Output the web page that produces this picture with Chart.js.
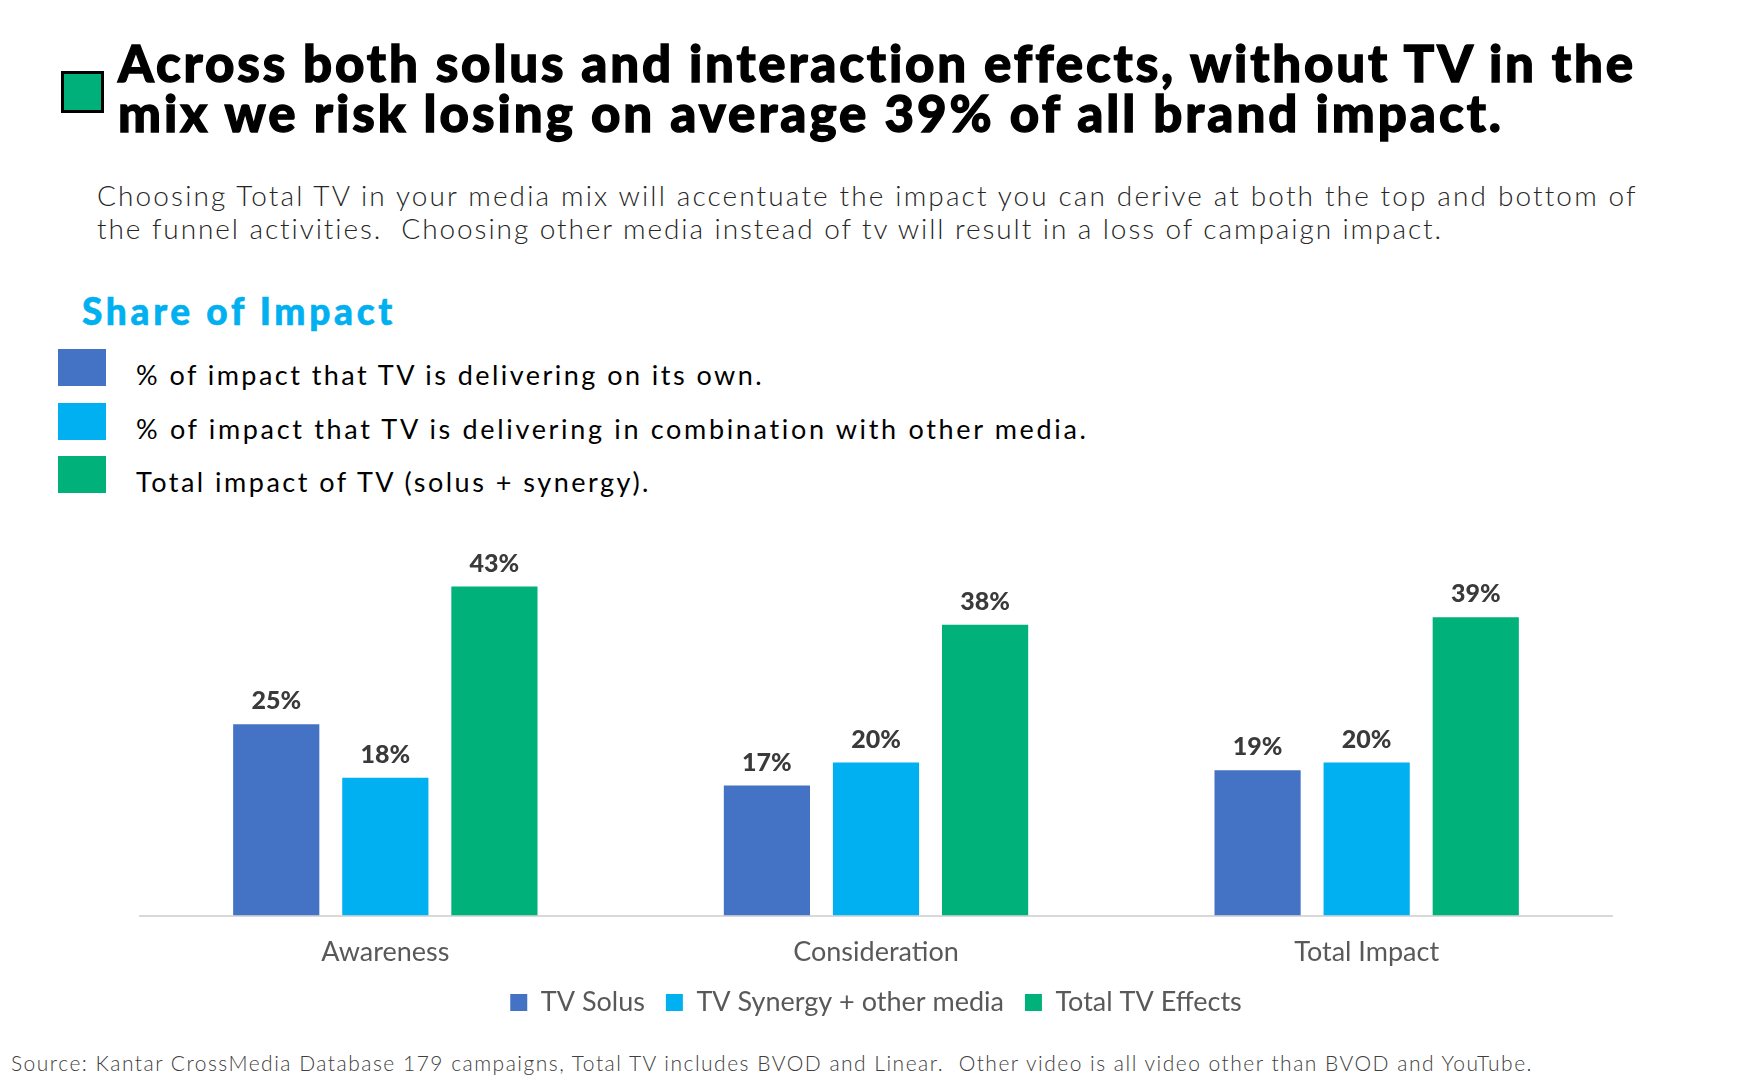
<!DOCTYPE html>
<html>
<head>
<meta charset="utf-8">
<script src="https://cdn.jsdelivr.net/npm/chart.js@4/dist/chart.umd.min.js"></script>
<style>
  html, body { margin: 0; padding: 0; background: #fff; }
  body { width: 1764px; height: 1080px; position: relative; overflow: hidden; font-family: "Lato", "Open Sans", sans-serif; }
  .abs { position: absolute; white-space: nowrap; }
  #mark { left: 61px; top: 71px; width: 37px; height: 36px; background: #00B07A; border: 3px solid #000; }
  .title { left: 118px; font-size: 51px; font-weight: 900; color: #000; line-height: 50px; -webkit-text-stroke: 1.3px #000; }
  .sub { left: 97px; font-size: 28px; font-weight: 300; color: #262626; line-height: 33px; }
  #share { left: 82px; top: 291px; font-size: 37px; font-weight: 900; color: #00B0F0; line-height: 40px; -webkit-text-stroke: 0.6px #00B0F0; }
  .key { left: 58px; width: 48px; height: 37px; }
  .keytext { left: 136px; font-size: 27px; color: #000; line-height: 30px; }
  #source { left: 11px; top: 1050px; font-size: 21px; color: #404040; line-height: 26px; font-weight: 300; }
  #chartBox { position: absolute; left: 0; top: 520px; width: 1764px; height: 506px; }
</style>
</head>
<body>
<div id="mark" class="abs"></div>
<div class="abs title fit" data-w="1517" style="top:38px">Across both solus and interaction effects, without TV in the</div>
<div class="abs title fit" data-w="1386" style="top:88px">mix we risk losing on average 39% of all brand impact.</div>
<div class="abs sub fit" data-w="1540" style="top:179px">Choosing Total TV in your media mix will accentuate the impact you can derive at both the top and bottom of</div>
<div class="abs sub fit" data-w="1347" style="top:212px">the funnel activities.&nbsp; Choosing other media instead of tv will result in a loss of campaign impact.</div>
<div id="share" class="abs fit" data-w="314">Share of Impact</div>
<div class="abs key" style="top:349px;background:#4472C4"></div>
<div class="abs key" style="top:403px;background:#00B0F0"></div>
<div class="abs key" style="top:456px;background:#00B179"></div>
<div class="abs keytext fit" data-w="628" style="top:360px">% of impact that TV is delivering on its own.</div>
<div class="abs keytext fit" data-w="953" style="top:414px">% of impact that TV is delivering in combination with other media.</div>
<div class="abs keytext fit" data-w="515" style="top:467px">Total impact of TV (solus + synergy).</div>
<div id="chartBox"><canvas id="chart"></canvas></div>
<div id="source" class="abs fit" data-w="1522">Source: Kantar CrossMedia Database 179 campaigns, Total TV includes BVOD and Linear.&nbsp; Other video is all video other than BVOD and YouTube.</div>
<script>
// data
const categories = ['Awareness', 'Consideration', 'Total Impact'];
const seriesNames = ['TV Solus', 'TV Synergy + other media', 'Total TV Effects'];
const tvSolus = [25, 17, 19];
const tvSynergy = [18, 20, 20];
const totalTvEffects = [43, 38, 39];
const seriesColors = ['#4472C4', '#00B0F0', '#00B179'];

// stretch text to the widths of the original
document.querySelectorAll('.fit').forEach(el => {
  const target = +el.dataset.w;
  const n = el.textContent.length;
  const w = el.getBoundingClientRect().width;
  el.style.letterSpacing = ((target - w) / n) + 'px';
});

Chart.defaults.font.family = '"Lato", "Open Sans", sans-serif';

const valueLabels = {
  id: 'valueLabels',
  afterDatasetsDraw(chart) {
    const ctx = chart.ctx;
    ctx.save();
    ctx.font = '900 25px "Lato", sans-serif';
    ctx.fillStyle = '#3A3A3A';
    ctx.textAlign = 'center';
    ctx.textBaseline = 'middle';
    chart.data.datasets.forEach((ds, i) => {
      chart.getDatasetMeta(i).data.forEach((bar, j) => {
        ctx.fillText(ds.data[j] + '%', bar.x, bar.y - 23);
      });
    });
    ctx.restore();
  }
};

new Chart(document.getElementById('chart').getContext('2d'), {
  type: 'bar',
  data: {
    labels: categories,
    datasets: [
      { label: seriesNames[0], data: tvSolus, backgroundColor: seriesColors[0] },
      { label: seriesNames[1], data: tvSynergy, backgroundColor: seriesColors[1] },
      { label: seriesNames[2], data: totalTvEffects, backgroundColor: seriesColors[2] }
    ]
  },
  options: {
    responsive: true,
    maintainAspectRatio: false,
    animation: false,
    layout: { padding: { left: 140, right: 152, top: 13, bottom: 0 } },
    datasets: { bar: { categoryPercentage: 0.667, barPercentage: 0.79 } },
    plugins: {
      legend: {
        position: 'bottom',
        labels: { boxWidth: 17, boxHeight: 17, color: '#595959', font: { size: 27 }, padding: 21 }
      },
      tooltip: { enabled: false }
    },
    scales: {
      x: {
        grid: { display: false, drawTicks: false },
        border: { color: '#D9D9D9', width: 2 },
        ticks: { color: '#595959', font: { size: 27 }, padding: 20 },
        // trim the empty space under the category labels
        afterFit: scale => { scale.height -= 20; }
      },
      y: { display: false, min: 0, max: 50 }
    }
  },
  plugins: [valueLabels]
});
</script>
</body>
</html>
